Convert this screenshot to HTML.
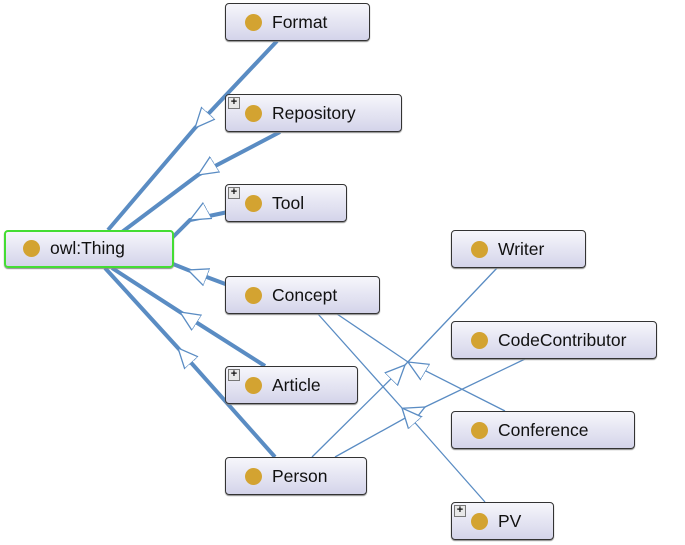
<!DOCTYPE html>
<html><head><style>
body{margin:0;width:685px;height:545px;background:#fff;position:relative;overflow:hidden;font-family:"Liberation Sans",sans-serif}
.n{position:absolute;height:38px;border:1px solid #333;border-radius:4px;background:linear-gradient(#f6f6fb,#d4d4ea);box-sizing:border-box;font-size:17.5px;line-height:36px;padding-left:46px;color:#111;box-shadow:0 1px 1px #888}
.n:before{content:"";position:absolute;left:19px;top:10px;width:17px;height:17px;border-radius:50%;background:#d3a331}
.p:after{content:"+";position:absolute;left:2px;top:2px;width:10px;height:10px;border:1px solid #777;background:#e8e8e8;font-size:11px;line-height:9px;text-align:center;font-weight:bold}
.t{border:2.5px solid #44dd33;padding-left:44px;line-height:33px}
.t:before{left:17px;top:8px}
svg{position:absolute;left:0;top:0}
</style></head><body>
<svg width="685" height="545">
<defs>
<marker id="a" markerUnits="userSpaceOnUse" markerWidth="40" markerHeight="40" refX="20" refY="20" orient="auto" viewBox="0 0 40 40">
<path d="M20,20 L0,11 L0,29 Z" fill="#fff" stroke="#5a8cc3" stroke-width="1.3"/>
</marker>
</defs>
<g fill="none" stroke="#5a8cc3" stroke-width="4" marker-mid="url(#a)">
<polyline points="277,41 195,128 108,230"/>
<polyline points="280,132 198,175 122,232"/>
<polyline points="228,212 190,220 170,240"/>
<polyline points="228,285 188,270 168,262"/>
<polyline points="265,366 180,312 112,268"/>
<polyline points="275,457 178,348 105,268"/>
</g>
<g fill="none" stroke="#5a8cc3" stroke-width="1.3" marker-mid="url(#a)">
<polyline points="312,457 405,365 497,268"/>
<polyline points="335,457 425,407 525,359"/>
<polyline points="505,411 408,362 337,314"/>
<polyline points="485,502 402,408 318,314"/>
</g>
</svg>
<div class="n" style="left:225px;top:3px;width:145px">Format</div>
<div class="n p" style="left:225px;top:94px;width:177px">Repository</div>
<div class="n p" style="left:225px;top:184px;width:122px">Tool</div>
<div class="n t" style="left:4px;top:230px;width:170px">owl:Thing</div>
<div class="n" style="left:225px;top:276px;width:155px">Concept</div>
<div class="n p" style="left:225px;top:366px;width:133px">Article</div>
<div class="n" style="left:225px;top:457px;width:142px">Person</div>
<div class="n" style="left:451px;top:230px;width:135px">Writer</div>
<div class="n" style="left:451px;top:321px;width:206px">CodeContributor</div>
<div class="n" style="left:451px;top:411px;width:184px">Conference</div>
<div class="n p" style="left:451px;top:502px;width:103px">PV</div>
</body></html>
